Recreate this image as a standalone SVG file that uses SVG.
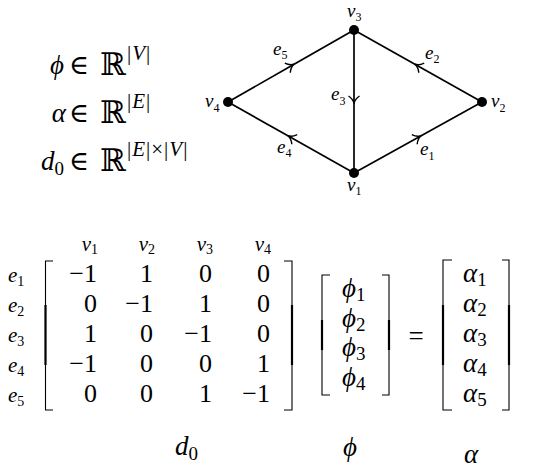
<svg xmlns="http://www.w3.org/2000/svg" width="536" height="472" viewBox="0 0 536 472">
<style>
text{font-family:"Liberation Serif","DejaVu Serif",serif;fill:#000}
.m{font-size:27px}
.bb{font-size:31px;font-family:"DejaVu Serif",serif}
.i{font-style:italic}
.sup{font-size:21px}
.gl{font-size:19px;font-style:italic}
.gs{font-size:12px}
.lab{font-size:21px}
.num{font-size:26px;text-anchor:end}
.edge{stroke:#000;stroke-width:1.7;fill:none}
.br{stroke:#000;stroke-width:1.1;fill:none}
.brk{stroke:#000;stroke-width:2.2;fill:none}
</style>
<defs>
<marker id="arr" markerUnits="userSpaceOnUse" markerWidth="16" markerHeight="16" viewBox="-8 -8 16 16" refX="0" refY="0" orient="auto">
<path d="M-4,-5.5 Q-1,-1 3.5,0 Q-1,1 -4,5.5" fill="none" stroke="#000" stroke-width="1.4"/>
</marker>
</defs>

<!-- formulas -->
<g id="formulas">
<text class="m i" x="64" y="74" text-anchor="end">ϕ</text>
<text class="m" x="69" y="74">∈</text>
<text class="bb" x="100" y="75">ℝ</text>
<text class="sup" x="127" y="60" letter-spacing="1"><tspan>|</tspan><tspan font-style="italic">V</tspan><tspan>|</tspan></text>

<text class="m i" x="66" y="122" text-anchor="end">α</text>
<text class="m" x="69" y="122">∈</text>
<text class="bb" x="100" y="123">ℝ</text>
<text class="sup" x="127" y="108" letter-spacing="1"><tspan>|</tspan><tspan font-style="italic">E</tspan><tspan>|</tspan></text>

<text class="m" x="64" y="170" text-anchor="end"><tspan font-style="italic">d</tspan><tspan font-size="19px" dy="5">0</tspan></text>
<text class="m" x="69" y="170">∈</text>
<text class="bb" x="100" y="171">ℝ</text>
<text class="sup" x="127" y="156" letter-spacing="1"><tspan>|</tspan><tspan font-style="italic">E</tspan><tspan>|×|</tspan><tspan font-style="italic">V</tspan><tspan>|</tspan></text>
</g>

<!-- connectors -->
<g id="connectors">
<path class="edge" d="M228,102 L291,66 L354,30" marker-mid="url(#arr)"/>
<path class="edge" d="M482,102 L418,66 L354,30" marker-mid="url(#arr)"/>
<path class="edge" d="M354,30 L354,100 L354,173" stroke-width="2.3" marker-mid="url(#arr)"/>
<path class="edge" d="M354,173 L291,137.5 L228,102" marker-mid="url(#arr)"/>
<path class="edge" d="M354,173 L418,137.5 L482,102" marker-mid="url(#arr)"/>
<text class="gl" x="273" y="55">e<tspan class="gs" font-style="normal" dy="4">5</tspan></text>
<text class="gl" x="425" y="59">e<tspan class="gs" font-style="normal" dy="4">2</tspan></text>
<text class="gl" x="331" y="100">e<tspan class="gs" font-style="normal" dy="5">3</tspan></text>
<text class="gl" x="277" y="153">e<tspan class="gs" font-style="normal" dy="4">4</tspan></text>
<text class="gl" x="420" y="155">e<tspan class="gs" font-style="normal" dy="5">1</tspan></text>
</g>

<!-- nodes -->
<g id="v1"><circle cx="354" cy="173" r="5"/><text class="gl" x="347" y="191">v<tspan class="gs" font-style="normal" dy="4">1</tspan></text></g>
<g id="v2"><circle cx="482" cy="102" r="5"/><text class="gl" x="491" y="107">v<tspan class="gs" font-style="normal" dy="5">2</tspan></text></g>
<g id="v3"><circle cx="354" cy="30" r="5"/><text class="gl" x="347" y="17">v<tspan class="gs" font-style="normal" dy="4">3</tspan></text></g>
<g id="v4"><circle cx="228" cy="102" r="5"/><text class="gl" x="205" y="107">v<tspan class="gs" font-style="normal" dy="5">4</tspan></text></g>

<!-- matrix d0 -->
<g id="matrix">
<g class="lab">
<text x="98" y="251" text-anchor="end"><tspan font-style="italic">v</tspan><tspan font-size="14px" dy="3">1</tspan></text>
<text x="155" y="251" text-anchor="end"><tspan font-style="italic">v</tspan><tspan font-size="14px" dy="3">2</tspan></text>
<text x="213" y="251" text-anchor="end"><tspan font-style="italic">v</tspan><tspan font-size="14px" dy="3">3</tspan></text>
<text x="271" y="251" text-anchor="end"><tspan font-style="italic">v</tspan><tspan font-size="14px" dy="3">4</tspan></text>
<text x="8" y="282"><tspan font-style="italic">e</tspan><tspan font-size="14px" dy="4">1</tspan></text>
<text x="8" y="312"><tspan font-style="italic">e</tspan><tspan font-size="14px" dy="4">2</tspan></text>
<text x="8" y="342"><tspan font-style="italic">e</tspan><tspan font-size="14px" dy="4">3</tspan></text>
<text x="8" y="372"><tspan font-style="italic">e</tspan><tspan font-size="14px" dy="4">4</tspan></text>
<text x="8" y="402"><tspan font-style="italic">e</tspan><tspan font-size="14px" dy="4">5</tspan></text>
</g>
<path class="br" d="M53,261 H45.5 V410 H53"/>
<path class="brk" d="M45.5,305 V365"/>
<path class="br" d="M284,261 H292 V410 H284"/>
<path class="brk" d="M292,305 V365"/>
<text class="num" x="97" y="282">−1</text><text class="num" x="153" y="282">1</text><text class="num" x="212" y="282">0</text><text class="num" x="270" y="282">0</text>
<text class="num" x="97" y="312">0</text><text class="num" x="153" y="312">−1</text><text class="num" x="212" y="312">1</text><text class="num" x="270" y="312">0</text>
<text class="num" x="97" y="342">1</text><text class="num" x="153" y="342">0</text><text class="num" x="212" y="342">−1</text><text class="num" x="270" y="342">0</text>
<text class="num" x="97" y="372">−1</text><text class="num" x="153" y="372">0</text><text class="num" x="212" y="372">0</text><text class="num" x="270" y="372">1</text>
<text class="num" x="97" y="402">0</text><text class="num" x="153" y="402">0</text><text class="num" x="212" y="402">1</text><text class="num" x="270" y="402">−1</text>
<text class="m" x="175" y="455"><tspan font-style="italic">d</tspan><tspan font-size="19px" dy="5">0</tspan></text>
</g>

<!-- phi vector -->
<g id="phi">
<path class="br" d="M330,275 H322 V395 H330"/>
<path class="brk" d="M322,320 V350"/>
<path class="br" d="M382,275 H389 V395 H382"/>
<path class="brk" d="M389,320 V350"/>
<text class="m" x="342" y="297"><tspan font-style="italic">ϕ</tspan><tspan font-size="19px" dy="4">1</tspan></text>
<text class="m" x="342" y="327"><tspan font-style="italic">ϕ</tspan><tspan font-size="19px" dy="4">2</tspan></text>
<text class="m" x="342" y="356"><tspan font-style="italic">ϕ</tspan><tspan font-size="19px" dy="4">3</tspan></text>
<text class="m" x="342" y="386"><tspan font-style="italic">ϕ</tspan><tspan font-size="19px" dy="4">4</tspan></text>
<text class="m i" x="343" y="456">ϕ</text>
</g>

<text class="m" x="416" y="345" text-anchor="middle">=</text>

<!-- alpha vector -->
<g id="alpha">
<path class="br" d="M452,260 H443 V410 H452"/>
<path class="brk" d="M443,305 V365"/>
<path class="br" d="M502,260 H509 V410 H502"/>
<path class="brk" d="M509,305 V365"/>
<text class="m" x="463" y="282"><tspan font-style="italic">α</tspan><tspan font-size="19px" dy="4">1</tspan></text>
<text class="m" x="463" y="312"><tspan font-style="italic">α</tspan><tspan font-size="19px" dy="4">2</tspan></text>
<text class="m" x="463" y="342"><tspan font-style="italic">α</tspan><tspan font-size="19px" dy="4">3</tspan></text>
<text class="m" x="463" y="372"><tspan font-style="italic">α</tspan><tspan font-size="19px" dy="4">4</tspan></text>
<text class="m" x="463" y="402"><tspan font-style="italic">α</tspan><tspan font-size="19px" dy="4">5</tspan></text>
<text class="m i" x="464" y="463">α</text>
</g>
</svg>
